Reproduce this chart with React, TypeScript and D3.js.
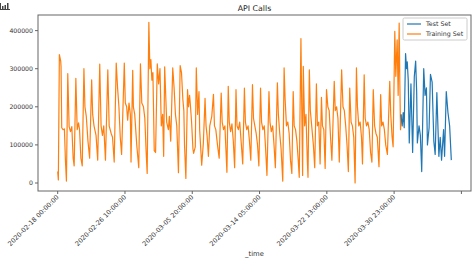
import * as d3 from "d3";

// hourly index (x) and API calls in thousands (y)
const trainHour = [
  0, 2, 5, 9, 10, 12, 16, 20, 23, 26, 30, 34, 38, 42, 46, 49, 54, 58, 62, 65, 69, 73, 78, 81, 85, 90, 95,
  101, 104, 108, 114, 119, 125, 129, 133, 137, 142, 149, 153, 159, 163, 168, 174, 178, 182, 186, 190, 198,
  201, 205, 208, 212, 216, 218, 223, 225, 229, 235, 241, 246, 250, 255, 259, 263, 266, 271, 274, 277, 280,
  283, 287, 291, 296, 300, 304, 308, 312, 315, 318, 324, 329, 332, 336, 342, 346, 350, 354, 359, 364, 368,
  372, 375, 377, 381, 386, 389, 392, 394, 398, 402, 404, 409, 412, 416, 420, 422,
  428, 433, 438, 441, 444, 448, 452, 458, 463, 466, 470, 475, 480, 486, 489, 493, 497, 500, 503, 507, 510,
  514, 518, 522, 526, 530, 533, 537, 541, 546, 550, 555, 558, 562, 566, 570, 574, 579, 582, 586, 590, 594,
  598, 603, 606, 610, 614, 618, 622, 628, 631, 635, 639, 643, 647, 653, 656, 660, 664, 669, 673, 676, 680,
  684, 688, 692, 696, 700, 703, 707, 711, 715, 718, 723, 726, 728, 730, 734, 738, 742, 744, 748, 751, 755,
  760, 764, 769, 772, 776, 780, 784, 787, 791, 795, 799, 803, 807, 811, 815, 822, 825, 829, 833, 837, 844,
  848, 852, 856, 860, 864, 868, 872, 876, 880, 884, 888, 891, 895, 899, 903, 906, 911, 914, 918, 922, 926,
  930, 934, 938, 942, 946, 950, 955, 960, 963, 967, 971, 975, 980, 987, 990, 994, 997, 1002, 1005, 1009,
  1012, 1015, 1017, 1019, 1022,
];
const trainCalls = [
  30, 8, 337, 320, 305, 145, 140, 142, 60, 5, 287, 148, 135, 148, 65, 45, 275, 140, 158, 140, 65, 45, 300, 200, 175, 110, 65,
  271, 180, 150, 125, 60, 312, 150, 125, 150, 60, 297, 150, 130, 120, 55, 315, 250, 200, 120, 75, 315,
  210, 200, 165, 210, 180, 55, 296, 200, 180, 100, 40, 313, 210, 200, 170, 80, 25, 422, 300, 324, 270,
  290, 85, 80, 313, 260, 300, 150, 180, 70, 305, 160, 140, 175, 110, 302, 250, 180, 150, 27, 308, 290,
  220, 190, 100, 12, 245, 200, 230, 210, 160, 90, 78, 95, 302, 180, 240, 140,
  47, 105, 222, 150, 125, 70, 150, 175, 233, 150, 140, 100, 65, 236, 160, 140, 150, 90, 28, 254, 160,
  135, 155, 110, 40, 245, 150, 140, 160, 100, 50, 249, 160, 140, 150, 110, 60, 258, 170, 150, 130, 100,
  45, 249, 160, 140, 150, 90, 20, 240, 160, 135, 150, 100, 40, 263, 180, 130, 90, 5, 302, 220, 150,
  160, 130, 60, 25, 240, 150, 140, 110, 60, 15, 379, 160, 20, 306, 150, 180, 60, 15, 297, 190, 150,
  100, 40, 260, 150, 160, 50, 225, 150, 140, 38, 245, 200, 190, 120, 60, 267, 190, 200, 170, 55, 297,
  200, 190, 150, 100, 30, 249, 160, 150, 120, 0, 302, 200, 150, 160, 120, 50, 284, 170, 150, 160, 140,
  80, 55, 245, 150, 130, 120, 43, 232, 150, 160, 140, 100, 75, 267, 180, 120, 95, 398, 280, 376,
  230, 420, 260, 140, 180,
];
const testHour = [
  1020, 1024, 1027, 1030, 1034, 1037, 1039, 1042, 1045, 1050, 1055, 1060, 1064, 1067, 1069, 1074, 1078,
  1082, 1088, 1092, 1096, 1099, 1104, 1108, 1113, 1118, 1122, 1127, 1133, 1137, 1141, 1147, 1150, 1155,
  1160, 1165, 1170,
];
const testCalls = [
  180, 150, 185, 145, 340, 300, 318, 270, 105, 260, 80, 280, 320, 240, 105, 150, 125,
  30, 300, 230, 250, 100, 145, 285, 265, 110, 75, 237, 70, 120, 60, 140, 70, 240,
  185, 150, 60,
];

const xTicks = [0, 200, 400, 600, 800, 1000, 1200];
const xTickLabels = [
  "2020-02-18 00:00:00",
  "2020-02-26 10:00:00",
  "2020-03-05 20:00:00",
  "2020-03-14 05:00:00",
  "2020-03-22 13:00:00",
  "2020-03-30 23:00:00",
  "",
];
const yTicks = [0, 100, 200, 300, 400];

const W = 474;
const H = 265;
const M = { top: 15, right: 3, bottom: 74, left: 38 };
const FONT = "DejaVu Sans, sans-serif";
const BLUE = "#1f77b4";
const ORANGE = "#ff7f0e";

export default function App() {
  const x = d3.scaleLinear().domain([-58.5, 1228.5]).range([M.left, W - M.right]);
  const y = d3.scaleLinear().domain([-21, 441]).range([H - M.bottom, M.top]);

  const line = d3.line<[number, number]>()
    .x(d => x(d[0]))
    .y(d => y(d[1]));

  const train = trainHour.map((h, i) => [h, trainCalls[i]] as [number, number]);
  const test = testHour.map((h, i) => [h, testCalls[i]] as [number, number]);

  const x0 = M.left, x1 = W - M.right, y0 = M.top, y1 = H - M.bottom;

  return (
    <svg width={W} height={H} style={{ position: "absolute", left: 0, top: 0, background: "#fff" }}>
      {/* little chart icon in the corner */}
      <g fill="#444">
        <rect x={0} y={3} width={1} height={7} />
        <rect x={2} y={6} width={1.5} height={4} />
        <rect x={4.5} y={5} width={1.5} height={5} />
        <rect x={7} y={3} width={1.5} height={7} />
        <rect x={0} y={9} width={10} height={1} />
      </g>

      <text x={(x0 + x1) / 2} y={11} textAnchor="middle" fontFamily={FONT} fontSize={7.8} fill="#222">
        API Calls
      </text>

      <path d={line(train) ?? ""} fill="none" stroke={ORANGE} strokeWidth={1.2} strokeLinejoin="round" />
      <path d={line(test) ?? ""} fill="none" stroke={BLUE} strokeWidth={1.2} strokeLinejoin="round" />

      {/* frame */}
      <rect x={x0} y={y0} width={x1 - x0} height={y1 - y0} fill="none" stroke="#666" strokeWidth={1} />

      {/* y axis */}
      {yTicks.map(t => (
        <g key={t} transform={`translate(${x0},${y(t)})`}>
          <line x1={-3} x2={0} stroke="#666" />
          <text x={-5} dy="0.35em" textAnchor="end" fontFamily={FONT} fontSize={6.2} fill="#333">
            {t * 1000}
          </text>
        </g>
      ))}

      {/* x axis */}
      {xTicks.map((t, i) => (
        <g key={t} transform={`translate(${x(t)},${y1})`}>
          <line y1={0} y2={3} stroke="#666" />
          <text
            transform="translate(0,5) rotate(-45)"
            dy="0.35em"
            textAnchor="end"
            fontFamily={FONT}
            fontSize={6.5}
            fill="#333"
          >
            {xTickLabels[i]}
          </text>
        </g>
      ))}
      <text x={(x0 + x1) / 2} y={256} textAnchor="middle" fontFamily={FONT} fontSize={6.8} fill="#333">
        _time
      </text>

      {/* legend */}
      <g transform="translate(403,18)">
        <rect width={64} height={22} fill="#fff" fillOpacity={0.85} stroke="#ccc" rx={1.5} />
        <line x1={4} x2={18} y1={6} y2={6} stroke={BLUE} strokeWidth={1.2} />
        <text x={23} y={6} dy="0.35em" fontFamily={FONT} fontSize={6.3} fill="#333">Test Set</text>
        <line x1={4} x2={18} y1={16} y2={16} stroke={ORANGE} strokeWidth={1.2} />
        <text x={23} y={16} dy="0.35em" fontFamily={FONT} fontSize={6.3} fill="#333">Training Set</text>
      </g>
    </svg>
  );
}
